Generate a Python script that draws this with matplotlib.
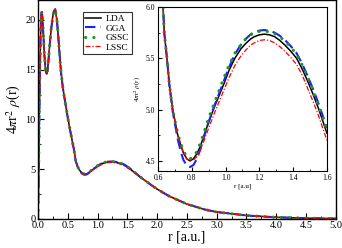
import numpy as np
import matplotlib.pyplot as plt
from matplotlib.ticker import MultipleLocator

plt.rcParams['font.family'] = ['Liberation Serif', 'DejaVu Serif']
plt.rcParams['mathtext.fontset'] = 'stix'

# radial density, shared part outside 0.6-1.6
r_lo = [0.0, 0.008, 0.015, 0.025, 0.035, 0.045, 0.055, 0.065, 0.075, 0.09, 0.11,
        0.13, 0.146, 0.16, 0.18, 0.2, 0.22, 0.25, 0.27, 0.29, 0.32, 0.35, 0.386,
        0.42, 0.46, 0.5, 0.55]
y_lo = [0.0, 2.6, 6.5, 11.5, 15.5, 18.8, 20.5, 20.8, 20.3, 18.6, 16.3,
        14.9, 14.6, 14.9, 16.2, 17.7, 19.0, 20.4, 20.9, 21.07, 19.9, 17.6, 14.8,
        13.1, 11.6, 10.2, 8.6]

r_hi = [1.7, 1.8, 1.9, 2.0, 2.2, 2.5, 2.8, 3.0, 3.5, 4.0, 4.5, 5.0]
y_hi = [4.3, 3.85, 3.42, 3.0, 2.3, 1.5, 0.95, 0.7, 0.35, 0.17, 0.08, 0.04]

# region shown in the inset, one list per functional
r_mid = [0.6, 0.63, 0.637, 0.653, 0.667, 0.687, 0.717, 0.735, 0.75, 0.77, 0.79,
         0.81, 0.83, 0.85, 0.875, 0.9, 0.93, 0.96, 0.99, 1.02, 1.055, 1.09, 1.12,
         1.15, 1.17, 1.2, 1.23, 1.26, 1.29, 1.32, 1.35, 1.385, 1.42, 1.455, 1.49,
         1.52, 1.55, 1.575, 1.6]
lda = [7.1, 6.0, 5.75, 5.5, 5.25, 5.0, 4.75, 4.65, 4.58, 4.52, 4.50,
       4.52, 4.57, 4.64, 4.76, 4.88, 5.01, 5.13, 5.25, 5.38, 5.5, 5.59, 5.645,
       5.69, 5.71, 5.728, 5.735, 5.728, 5.71, 5.675, 5.63, 5.57, 5.5, 5.39, 5.26,
       5.14, 5.01, 4.89, 4.77]
gga = [7.1, 6.0, 5.75, 5.5, 5.24, 4.98, 4.71, 4.59, 4.51, 4.455, 4.44,
       4.46, 4.52, 4.61, 4.75, 4.88, 5.02, 5.15, 5.28, 5.41, 5.54, 5.63, 5.69,
       5.735, 5.755, 5.77, 5.775, 5.768, 5.75, 5.72, 5.68, 5.62, 5.55, 5.44, 5.31,
       5.19, 5.06, 4.94, 4.82]
gssc = [7.1, 6.0, 5.75, 5.5, 5.25, 5.0, 4.76, 4.67, 4.6, 4.54, 4.52,
        4.54, 4.59, 4.67, 4.79, 4.92, 5.05, 5.18, 5.31, 5.43, 5.55, 5.63, 5.69,
        5.73, 5.748, 5.762, 5.765, 5.757, 5.74, 5.71, 5.67, 5.61, 5.54, 5.43, 5.3,
        5.17, 5.04, 4.92, 4.8]
lssc = [7.1, 6.0, 5.75, 5.5, 5.25, 5.0, 4.76, 4.66, 4.58, 4.52, 4.5,
        4.51, 4.54, 4.6, 4.71, 4.82, 4.95, 5.07, 5.19, 5.31, 5.43, 5.52, 5.58,
        5.63, 5.65, 5.673, 5.68, 5.673, 5.65, 5.615, 5.57, 5.51, 5.44, 5.33, 5.19,
        5.07, 4.94, 4.82, 4.7]

labels = ['LDA', 'GGA', 'GSSC', 'LSSC']
series = [lda, gga, gssc, lssc]
styles = [dict(color='black', ls='-', lw=1.1),
          dict(color='#1f1fff', ls=(0, (5, 2.5)), lw=1.5),
          dict(color='#1a9a1a', ls=(0, (0.1, 2.6)), lw=2.2, dash_capstyle='round'),
          dict(color='red', ls=(0, (4, 1.5, 1, 1.5)), lw=0.9)]

fig = plt.figure(figsize=(3.42, 2.48), dpi=100)
ax = fig.add_axes([0.111, 0.117, 0.871, 0.883])

for lab, ys, st in zip(labels, series, styles):
    r = np.concatenate([r_lo, r_mid, r_hi])
    y = np.concatenate([y_lo, ys, y_hi])
    ax.plot(r, y, label=lab, **st)

ax.set_xlim(0, 5)
ax.set_ylim(0, 22)
ax.xaxis.set_major_locator(MultipleLocator(0.5))
ax.xaxis.set_minor_locator(MultipleLocator(0.25))
ax.yaxis.set_major_locator(MultipleLocator(5))
ax.yaxis.set_minor_locator(MultipleLocator(2.5))
ax.tick_params(which='both', direction='in', labelsize=7.5, pad=1.5)
ax.tick_params(which='major', length=4)
ax.tick_params(which='minor', length=2)
ax.set_xlabel('r [a.u.]', fontsize=10, labelpad=0)
ax.set_ylabel(r'4$\pi$r$^2$ $\rho$(r)', fontsize=10, labelpad=2)
for s in ax.spines.values():
    s.set_linewidth(1.0)

leg = ax.legend(loc='upper left', bbox_to_anchor=(0.151, 0.945), fontsize=6.8,
                frameon=True, fancybox=False, borderpad=0.25, labelspacing=0.1,
                handlelength=1.7, handletextpad=0.5, borderaxespad=0)
leg.get_frame().set_edgecolor('black')
leg.get_frame().set_linewidth(0.8)

ins = fig.add_axes([0.462, 0.31, 0.494, 0.662])
for ys, st in zip(series, styles):
    ins.plot(r_mid, ys, **st)
ins.set_xlim(0.6, 1.6)
ins.set_ylim(4.4, 6.0)
ins.xaxis.set_major_locator(MultipleLocator(0.2))
ins.xaxis.set_minor_locator(MultipleLocator(0.1))
ins.yaxis.set_major_locator(MultipleLocator(0.5))
ins.yaxis.set_minor_locator(MultipleLocator(0.25))
ins.tick_params(which='both', direction='in', labelsize=5.5, pad=2)
ins.tick_params(which='major', length=3)
ins.tick_params(which='minor', length=1.5)
ins.set_xlabel('r [a.u]', fontsize=5, labelpad=1)
ins.set_ylabel(r'4$\pi$r$^2$ $\rho$(r)', fontsize=5, labelpad=2)
for s in ins.spines.values():
    s.set_linewidth(0.8)

fig.savefig('out.png', dpi=100)
